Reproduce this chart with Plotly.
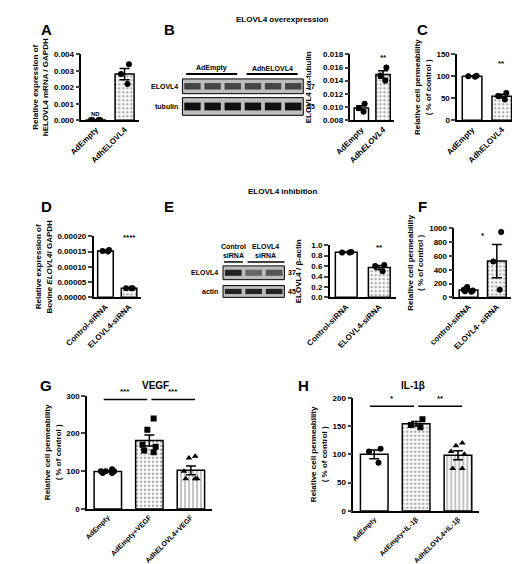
import numpy as np
import plotly.graph_objects as go

W, H = 520, 564

# ---- data ----
a_groups = ["AdEmpty", "AdhELOVL4"]
a_pts = [[0.00001, 0.00001, 0.00001, 0.00001], [0.0034, 0.0028, 0.0022]]
b_groups = ["AdEmpty", "Adh<i>ELOVL4</i>"]
b_pts = [[0.0105, 0.0098, 0.0093], [0.0160, 0.0148, 0.0140]]
c_groups = ["AdEmpty", "AdhELOVL4"]
c_pts = [[100, 99, 101], [62, 55, 47]]
d_groups = ["Control-siRNA", "ELOVL4-siRNA"]
d_pts = [[0.000155, 0.000150, 0.000152], [0.00003, 0.00003, 0.00003]]
e_groups = ["Control-siRNA", "ELOVL4-siRNA"]
e_pts = [[0.87, 0.86, 0.86], [0.62, 0.60, 0.50]]
f_groups = ["control-siRNA", "ELOVL4- siRNA"]
f_pts = [[150, 100, 80, 90, 110], [950, 520, 110]]
g_groups = ["AdEmpty", "AdEmpty+VEGF", "AdhELOVL4+VEGF"]
g_pts = [[105, 100, 95, 95, 100, 100], [240, 210, 150, 165, 155, 170], [135, 140, 80, 80, 80, 100]]
h_groups = ["AdEmpty", "AdEmpty+IL-1β", "AdhELOVL4+IL-1β"]
h_pts = [[110, 85, 105], [162, 148, 152], [120, 115, 75, 75, 105, 100]]

FONT = "Liberation Sans"
fig = go.Figure()
patterns = ["", ".", "|"]
symbols = ["circle", "square", "triangle-up"]


def px_x(p):
    return p / W


def px_y(p):
    return 1 - p / H


def panel(n, groups, pts, x0, x1, ytop, ybot, rng, dtick, ytitle, fmt=None,
          syms=None, tick_size=8, standoff=4):
    ax = "" if n == 1 else str(n)
    xa, ya = "x" + ax, "y" + ax
    means = [np.mean(p) for p in pts]
    sems = [np.std(p, ddof=1) / np.sqrt(len(p)) for p in pts]
    fig.add_trace(go.Bar(
        x=groups, y=means, xaxis=xa, yaxis=ya, width=0.66,
        marker=dict(color="white", line=dict(color="black", width=1.5),
                    pattern=dict(shape=patterns[:len(groups)], fgcolor="#555",
                                 size=4, solidity=0.35)),
        error_y=dict(type="data", array=sems, color="black", thickness=1.5, width=5),
        showlegend=False))
    for i, (g, p) in enumerate(zip(groups, pts)):
        fig.add_trace(go.Box(
            x=[g] * len(p), y=p, xaxis=xa, yaxis=ya, boxpoints="all", jitter=0.8,
            pointpos=0, fillcolor="rgba(0,0,0,0)", line=dict(width=0),
            marker=dict(color="black", size=6,
                        symbol=(syms[i] if syms else "circle")),
            showlegend=False, hoverinfo="y"))
    fig.layout["xaxis" + ax] = dict(
        domain=[px_x(x0), px_x(x1)], anchor=ya, showline=True, linecolor="black",
        linewidth=1.5, tickangle=-45, tickfont=dict(size=tick_size, family=FONT, weight="bold"),
        categoryorder="array", categoryarray=groups, ticks="")
    fig.layout["yaxis" + ax] = dict(
        domain=[px_y(ybot), px_y(ytop)], anchor=xa, range=rng, dtick=dtick,
        showline=True, linecolor="black", linewidth=1.5, showgrid=False,
        zeroline=False, ticks="outside", ticklen=4, tickwidth=1.5,
        tickformat=fmt, tickfont=dict(size=8, family=FONT, weight="bold"),
        title=dict(text=ytitle, font=dict(size=8, family=FONT, weight="bold"),
                   standoff=standoff))
    return xa, ya


panel(1, a_groups, a_pts, 47, 108, 43, 110, [0, 0.004], 0.001,
      "Relative expression of<br>hELOVL4 mRNA / GAPDH", ".3f")
panel(2, b_groups, b_pts, 332, 378, 43, 110, [0.008, 0.018], 0.002,
      "ELOVL4 / α-tubulin", ".3f", standoff=10)
panel(3, c_groups, c_pts, 445, 508, 43, 110, [0, 150], 50,
      "Relative cell permeability<br>( % of control )")
panel(4, d_groups, d_pts, 60, 110, 228, 290, [0, 0.0002], 0.00005,
      "Relative expression of<br>Bovine <i>ELOVL4</i>/ GAPDH", ".5f")
panel(5, e_groups, e_pts, 310, 380, 237, 290, [0, 1.0], 0.2,
      "ELOVL4 / β-actin", ".1f", standoff=8)
panel(6, f_groups, f_pts, 442, 502, 220, 290, [0, 1000], 200,
      "Relative cell permeability<br>( % of control )")
panel(7, g_groups, g_pts, 53, 185, 390, 505, [0, 300], 100,
      "Relative cell permeability<br>( % of control )", syms=symbols, tick_size=7)
panel(8, h_groups, h_pts, 335, 468, 392, 507, [0, 200], 50,
      "Relative cell permeability<br>( % of control )", syms=symbols, tick_size=7)

ann = []
shapes = []


def txt(x, y, t, size=9, xref="paper", yref="paper", bold=True, xanchor="center", yshift=0):
    ann.append(dict(x=x, y=y, xref=xref, yref=yref, text=(f"<b>{t}</b>" if bold else t),
                    showarrow=False, font=dict(size=size, family=FONT, color="black"),
                    xanchor=xanchor, yanchor="middle", yshift=yshift))


# panel letters and headers
for letter, x, y in [("A", 10, 18), ("B", 140, 18), ("C", 408, 18), ("D", 10, 198),
                     ("E", 140, 198), ("F", 408, 198), ("G", 10, 380), ("H", 282, 380)]:
    txt(px_x(x), px_y(y), letter, size=15)
txt(0.5, px_y(8), "ELOVL4 overexpression", 8)
txt(0.5, px_y(182), "ELOVL4 inhibition", 8)
txt(px_x(125), px_y(380), "VEGF", 10)
txt(px_x(398), px_y(380), "IL-1β", 10)

# significance marks
txt(a_groups[0], 0.00035, "ND", 6, "x", "y")
txt(1.0, 0.0175, "**", 8, "x2", "y2")
txt(1.0, 130, "**", 8, "x3", "y3")
txt(1.0, 0.000195, "****", 8, "x4", "y4")
txt(1.0, 0.95, "**", 8, "x5", "y5")
txt(0.5, 900, "*", 8, "x6", "y6")
for xa, ya, y, sig in [("x7", "y7", 290, ["***", "***"]), ("x8", "y8", 185, ["*", "**"])]:
    for k, (lo, hi) in enumerate([(-0.1, 0.95), (1.05, 2.1)]):
        shapes.append(dict(type="line", xref=xa, yref=ya, x0=lo, x1=hi, y0=y, y1=y,
                           line=dict(color="black", width=1.5)))
        txt((lo + hi) / 2, y, sig[k], 8, xa, ya, yshift=8)

# western blots (decorative)
def blot(x0, x1, rows, lanes, intens, labels, kd):
    for r, (ytop, ybot) in enumerate(rows):
        shapes.append(dict(type="rect", xref="paper", yref="paper", x0=px_x(x0), x1=px_x(x1),
                           y0=px_y(ybot), y1=px_y(ytop), fillcolor="#bdbdbd",
                           line=dict(color="black", width=1)))
        lw = (x1 - x0) / lanes
        for i in range(lanes):
            c = intens[r][i]
            shapes.append(dict(type="rect", xref="paper", yref="paper", layer="above",
                               x0=px_x(x0 + i * lw + 2), x1=px_x(x0 + (i + 1) * lw - 2),
                               y0=px_y((ytop + ybot) / 2 + (ybot - ytop) * 0.22),
                               y1=px_y((ytop + ybot) / 2 - (ybot - ytop) * 0.22),
                               fillcolor=c, line=dict(width=0)))
        txt(px_x(x0 - 3), px_y((ytop + ybot) / 2), labels[r], 7, xanchor="right")
        txt(px_x(x1 + 2), px_y((ytop + ybot) / 2), kd[r], 7, xanchor="left")


blot(154, 282, [(68, 83), (87, 105)], 6,
     [["#444"] * 6, ["#111"] * 6], ["ELOVL4", "tubulin"], ["37", "55"])
for xa0, xa1, lab in [(158, 212, "AdEmpty"), (222, 276, "AdhELOVL4")]:
    shapes.append(dict(type="line", xref="paper", yref="paper", x0=px_x(xa0), x1=px_x(xa1),
                       y0=px_y(63), y1=px_y(63), line=dict(color="black", width=2)))
    txt(px_x((xa0 + xa1) / 2), px_y(57), lab, 7)

blot(197, 262, [(258, 272), (278, 290)], 3,
     [["#222", "#666", "#555"], ["#222"] * 3], ["ELOVL4", "actin"], ["37", "45"])
for xa0, xa1, lab in [(198, 218, "Control<br>siRNA"), (223, 262, "ELOVL4<br>siRNA")]:
    shapes.append(dict(type="line", xref="paper", yref="paper", x0=px_x(xa0), x1=px_x(xa1),
                       y0=px_y(254), y1=px_y(254), line=dict(color="black", width=1.5)))
    txt(px_x((xa0 + xa1) / 2), px_y(243), lab, 7)

fig.update_layout(width=W, height=H, margin=dict(l=0, r=0, t=0, b=0),
                  plot_bgcolor="white", paper_bgcolor="white", annotations=ann,
                  shapes=shapes, font=dict(family=FONT, color="black"),
                  bargap=0.3)
fig.write_html("out.html")
